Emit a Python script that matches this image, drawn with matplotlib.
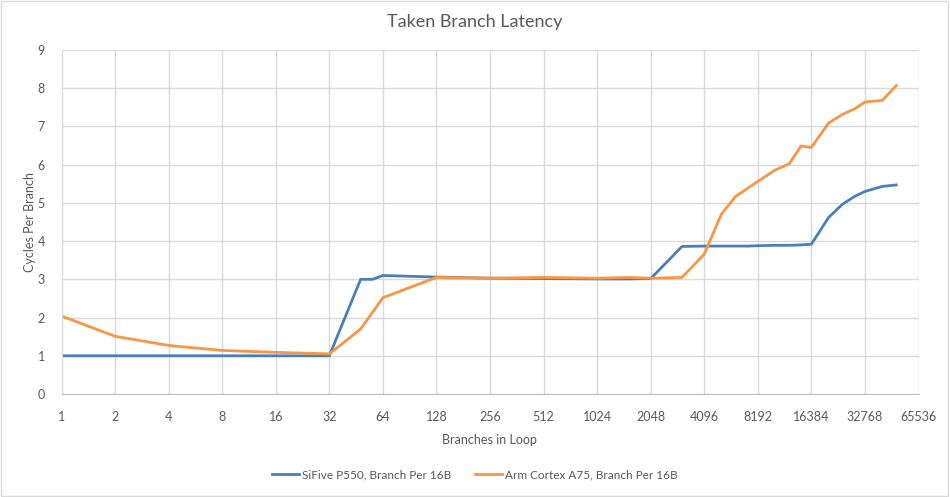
import matplotlib
matplotlib.use("Agg")
import matplotlib.pyplot as plt
from matplotlib.ticker import FixedLocator, NullLocator

# SiFive P550 series
x_p550 = [1, 2, 4, 8, 16, 32, 48, 56, 64, 128, 256, 512, 1024, 1536, 2048,
          3072, 4096, 5120, 6144, 7168, 8192, 10240, 12288, 14336, 16384,
          20480, 24576, 28672, 32768, 40960, 49152]
y_p550 = [1.0, 1.0, 1.0, 1.0, 1.0, 1.0, 3.0, 3.0, 3.1, 3.06, 3.03, 3.02, 3.01, 3.01, 3.02,
          3.86, 3.87, 3.87, 3.87, 3.87, 3.88, 3.89, 3.89, 3.90, 3.92,
          4.62, 4.97, 5.17, 5.30, 5.43, 5.47]

# Arm Cortex A75 series
x_a75 = [1, 2, 4, 8, 16, 32, 48, 64, 128, 256, 512, 1024, 1536, 2048,
         3072, 4096, 5120, 6144, 7168, 8192, 10240, 12288, 14336, 16384,
         20480, 24576, 28672, 32768, 40960, 49152]
y_a75 = [2.04, 1.51, 1.27, 1.14, 1.09, 1.05, 1.70, 2.52, 3.05, 3.03, 3.05, 3.03, 3.05, 3.03,
         3.05, 3.66, 4.71, 5.17, 5.38, 5.56, 5.86, 6.02, 6.49, 6.45,
         7.09, 7.32, 7.46, 7.64, 7.68, 8.07]

xticks = [2 ** i for i in range(17)]
yticks = list(range(10))

text_col = "#595959"
grid_col = "#d9d9d9"
plt.rcParams["font.family"] = ["Lato", "DejaVu Sans"]

fig = plt.figure(figsize=(9.5, 4.97), dpi=100)
ax = fig.add_axes([61.5 / 950, 1 - 394 / 497, (918.5 - 61.5) / 950, (394 - 50) / 497])

ax.plot(x_p550, y_p550, color="#4A7EBB", linewidth=2.0, label="SiFive P550, Branch Per 16B")
ax.plot(x_a75, y_a75, color="#F79646", linewidth=2.0, label="Arm Cortex A75, Branch Per 16B")

ax.set_xscale("log", base=2)
ax.set_xlim(1, 65536)
ax.set_ylim(0, 9)
ax.xaxis.set_major_locator(FixedLocator(xticks))
ax.xaxis.set_minor_locator(NullLocator())
ax.set_xticklabels([str(v) for v in xticks])
ax.set_yticks(yticks)
ax.tick_params(axis="both", length=0, labelsize=9, colors=text_col)
ax.tick_params(axis="x", pad=12)
ax.tick_params(axis="y", pad=12)
ax.grid(True, color=grid_col, linewidth=1)
ax.set_axisbelow(True)
for s in ["top", "right"]:
    ax.spines[s].set_visible(False)
ax.spines["left"].set_color(grid_col)
ax.spines["bottom"].set_color("#bfbfbf")

fig.text(0.5, 1 - 22 / 497, "Taken Branch Latency", ha="center", va="center",
         fontsize=13, color=text_col)
fig.text(489 / 950, 1 - 440 / 497, "Branches in Loop", ha="center", va="center",
         fontsize=9, color=text_col)
fig.text(30 / 950, 1 - 222 / 497, "Cycles Per Branch", ha="center", va="center",
         rotation=90, fontsize=9, color=text_col)

fig.legend(loc="center", bbox_to_anchor=(0.5, 1 - 475 / 497), ncol=2, frameon=False,
           fontsize=8.5, labelcolor=text_col, handlelength=2.3, handletextpad=0.25,
           columnspacing=2.0, borderpad=0.2)

fig.patches.append(plt.Rectangle((0.001, 0.002), 0.997, 0.996, transform=fig.transFigure,
                                 fill=False, edgecolor="#d9d9d9", linewidth=1))

fig.savefig("out.png", dpi=100)
